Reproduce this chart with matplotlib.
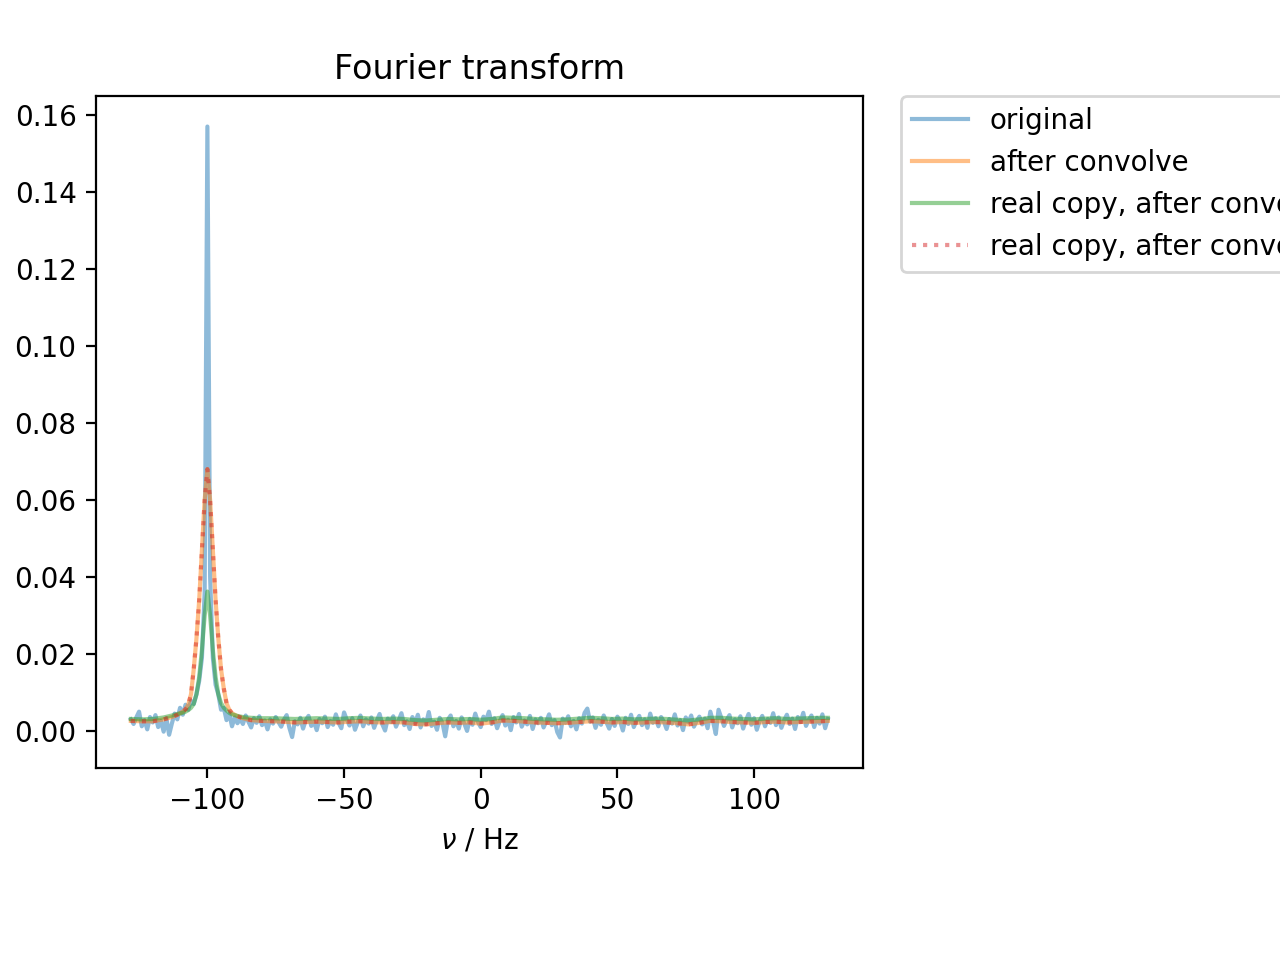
import numpy as np
import matplotlib
matplotlib.use("Agg")
import matplotlib.pyplot as plt

# frequency grid of the raw spectrum (1 Hz bins)
freq = np.arange(-128, 128)

# |FFT| of the raw signal
original = [
    0.0030, 0.0018, 0.0035, 0.0050, 0.0012, 0.0028, 0.0004, 0.0036,
    0.0022, 0.0041, 0.0010, 0.0026, -0.0002, 0.0033, -0.0010, 0.0019,
    0.0045, 0.0030, 0.0060, 0.0042, 0.0068, 0.0055, 0.0078, 0.0070,
    0.0095, 0.0130, 0.0190, 0.036, 0.157, 0.040, 0.019, 0.0120,
    0.0095, 0.0055, 0.0060, 0.0028, 0.0045, 0.0012, 0.0035, 0.0020,
    0.0031, 0.0018, 0.0040, 0.0024, 0.0009, 0.0033, 0.0021, 0.0038, 0.0015, 0.0027, 0.0004, 0.0030,
    0.0019, 0.0036, 0.0023, 0.0011, 0.0029, 0.0041, 0.0008, -0.0016, 0.0025, 0.0017, 0.0034, 0.0006,
    0.0028, 0.0039, 0.0013, 0.0024, 0.0002, 0.0031, 0.0020, 0.0037, 0.0010, 0.0026, 0.0016, 0.0043,
    0.0021, 0.0007, 0.0048, 0.0029, 0.0014, 0.0033, 0.0003, 0.0022, 0.0040, 0.0012, 0.0030, 0.0019,
    0.0035, 0.0008, 0.0027, 0.0044, 0.0017, 0.0001, 0.0032, 0.0023, 0.0038, 0.0011, 0.0028, 0.0046,
    0.0015, 0.0025, 0.0005, 0.0036, 0.0020, 0.0042, 0.0009, 0.0030, 0.0018, 0.0049, 0.0013, 0.0024,
    0.0003, 0.0034, 0.0021, -0.0014, 0.0029, 0.0040, 0.0012, 0.0026, 0.0006, 0.0035, 0.0019, 0.0000,
    0.0031, 0.0016, 0.0045, 0.0023, 0.0010, 0.0037, 0.0028, 0.0050, 0.0018, 0.0033, 0.0007, 0.0026,
    0.0041, 0.0014, 0.0029, 0.0002, 0.0036, 0.0022, 0.0044, 0.0011, 0.0027, 0.0017, 0.0039, 0.0005,
    0.0030, 0.0020, 0.0034, 0.0009, 0.0025, 0.0043, 0.0015, 0.0028, -0.0003, -0.0017, 0.0032, 0.0021,
    0.0038, 0.0012, 0.0026, 0.0004, 0.0033, 0.0019, 0.0047, 0.0058, 0.0024, 0.0035, 0.0008, 0.0029,
    0.0016, 0.0040, 0.0022, 0.0006, 0.0031, 0.0013, 0.0037, 0.0025, 0.0001, 0.0034, 0.0018, 0.0042,
    0.0010, 0.0027, 0.0039, 0.0015, 0.0030, 0.0008, 0.0045, 0.0021, 0.0033, 0.0012, 0.0036, 0.0024,
    0.0005, 0.0031, 0.0019, 0.0043, 0.0014, 0.0028, 0.0002, 0.0035, 0.0022, 0.0040, 0.0011, 0.0026,
    0.0037, 0.0017, 0.0032, 0.0007, 0.0050, 0.0024, -0.0008, 0.0055, 0.0034, 0.0013, 0.0029, 0.0041,
    0.0009, 0.0030, 0.0020, 0.0038, 0.0006, 0.0027, 0.0044, 0.0016, 0.0033, 0.0003, 0.0025, 0.0039,
    0.0012, 0.0031, 0.0021, 0.0046, 0.0015, 0.0035, 0.0008, 0.0028, 0.0042, 0.0018, 0.0032, 0.0005,
    0.0036, 0.0023, 0.0047, 0.0013, 0.0029, 0.0040, 0.0010, 0.0034, 0.0019, 0.0043, 0.0007, 0.0031,
]

# frequencies where the smooth (convolved) curves were read
freq_smooth = np.r_[-128, -124, -120, -116, -113, -111, np.arange(-109, -90),
                    -89, -87, -84, -80, np.arange(-76, 125, 4), 127]

convolved = [
    0.0026, 0.0025, 0.0025, 0.0030, 0.0036, 0.0042,
    0.0050, 0.0056, 0.0068, 0.0095, 0.016, 0.024, 0.034, 0.047, 0.060, 0.068,
    0.060, 0.047, 0.034, 0.024, 0.016, 0.011, 0.0072, 0.0055, 0.0046,
    0.0038, 0.0033, 0.0028, 0.0026,
    0.0025, 0.0024, 0.0022, 0.0023, 0.0024, 0.0023, 0.0022, 0.0024, 0.0025, 0.0023,
    0.0022, 0.0023, 0.0022, 0.0018, 0.0017, 0.0020, 0.0022, 0.0021, 0.0022, 0.0019,
    0.0022, 0.0027, 0.0026, 0.0024, 0.0022, 0.0021, 0.0020, 0.0021, 0.0023, 0.0025,
    0.0024, 0.0022, 0.0023, 0.0021, 0.0022, 0.0023, 0.0022, 0.0020, 0.0017, 0.0021,
    0.0026, 0.0025, 0.0023, 0.0022, 0.0021, 0.0023, 0.0024, 0.0022, 0.0023, 0.0024,
    0.0025, 0.0026,
]

real_copy = [
    0.0031, 0.0030, 0.0031, 0.0035, 0.0040, 0.0044,
    0.0047, 0.0050, 0.0054, 0.0060, 0.0070, 0.0095, 0.014, 0.021, 0.030, 0.0362,
    0.030, 0.021, 0.014, 0.0095, 0.0072, 0.0060, 0.0053, 0.0047, 0.0043,
    0.0039, 0.0036, 0.0034, 0.0033,
    0.0033, 0.0032, 0.0031, 0.0032, 0.0033, 0.0032, 0.0031, 0.0033, 0.0034, 0.0032,
    0.0031, 0.0032, 0.0031, 0.0028, 0.0027, 0.0029, 0.0031, 0.0030, 0.0031, 0.0029,
    0.0031, 0.0035, 0.0034, 0.0033, 0.0031, 0.0030, 0.0029, 0.0030, 0.0032, 0.0034,
    0.0033, 0.0031, 0.0032, 0.0030, 0.0031, 0.0032, 0.0031, 0.0029, 0.0027, 0.0030,
    0.0034, 0.0034, 0.0032, 0.0031, 0.0030, 0.0032, 0.0033, 0.0031, 0.0032, 0.0033,
    0.0034, 0.0034,
]

labels = ["original", "after convolve", "real copy, after convolve",
          "real copy, after convolve, real part"]

fig = plt.figure(figsize=(6.4, 4.8), dpi=200)
ax = fig.add_axes([0.075, 0.2, 0.599, 0.7])

ax.plot(freq, original, alpha=0.5, label=labels[0])
ax.plot(freq_smooth, convolved, alpha=0.5, label=labels[1])
ax.plot(freq_smooth, real_copy, alpha=0.5, label=labels[2])
ax.plot(freq_smooth, convolved, ":", alpha=0.5, label=labels[3])

ax.set_title("Fourier transform")
ax.set_xlabel(r"$\nu$ / Hz")
ax.legend(bbox_to_anchor=(1.05, 1), loc=2, borderaxespad=0.)

fig.savefig("out.png", dpi=200)
